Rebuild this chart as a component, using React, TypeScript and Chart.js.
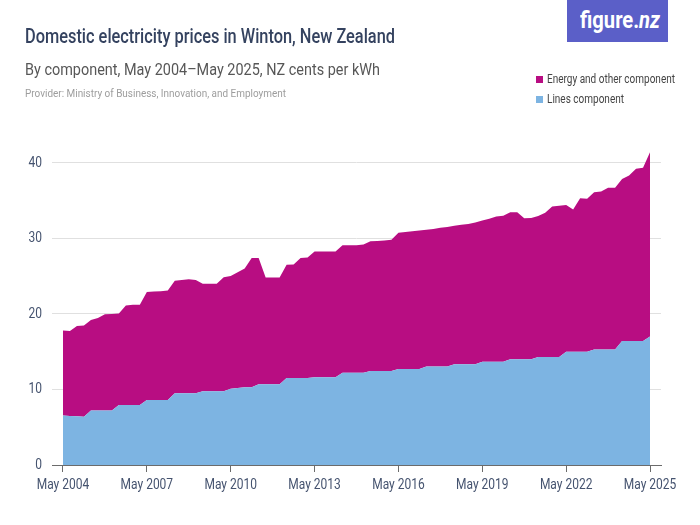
import { useEffect, useLayoutEffect, useRef } from "react";
import { Chart, registerables } from "chart.js";

Chart.register(...registerables);

// Quarterly periods from May 2004 to May 2025
const QUARTER_MONTHS = ["May", "Aug", "Nov", "Feb"];
const FIRST_YEAR = 2004;
const PERIOD_COUNT = 85;
const periods: string[] = [];
for (let i = 0; i < PERIOD_COUNT; i++) {
  periods.push(`${QUARTER_MONTHS[i % 4]} ${FIRST_YEAR + Math.floor((i + 1) / 4)}`);
}

// Axis labels
const xTickLabels = ["May 2004", "May 2007", "May 2010", "May 2013", "May 2016", "May 2019", "May 2022", "May 2025"];
const yTickValues = [0, 10, 20, 30, 40];

// Lines component, NZ cents per kWh
const linesComponent = [
  6.55, 6.5, 6.45, 6.4,
  7.2, 7.2, 7.2, 7.2,
  7.95, 7.95, 7.95, 7.95,
  8.6, 8.6, 8.6, 8.6,
  9.5, 9.5, 9.5, 9.5,
  9.75, 9.75, 9.75, 9.75,
  10.1, 10.2, 10.3, 10.3,
  10.7, 10.7, 10.7, 10.7,
  11.5, 11.5, 11.5, 11.5,
  11.6, 11.6, 11.6, 11.6,
  12.2, 12.2, 12.2, 12.2,
  12.45, 12.45, 12.45, 12.45,
  12.7, 12.7, 12.7, 12.7,
  13.05, 13.05, 13.05, 13.05,
  13.35, 13.35, 13.35, 13.35,
  13.65, 13.65, 13.65, 13.65,
  14.0, 14.0, 14.0, 14.0,
  14.3, 14.3, 14.3, 14.3,
  15.0, 15.0, 15.0, 15.0,
  15.3, 15.3, 15.3, 15.3,
  16.4, 16.4, 16.4, 16.4,
  17.0,
];

// Energy and other component, NZ cents per kWh
const energyComponent = [
  11.25, 11.25, 11.95, 12.05,
  12.0, 12.25, 12.75, 12.8,
  12.1, 13.15, 13.25, 13.25,
  14.3, 14.35, 14.4, 14.5,
  14.9, 15.0, 15.1, 15.0,
  14.25, 14.25, 14.25, 15.1,
  14.9, 15.3, 15.7, 17.1,
  16.7, 14.1, 14.1, 14.1,
  15.0, 15.05, 15.9, 15.95,
  16.65, 16.65, 16.65, 16.65,
  16.9, 16.9, 16.9, 17.0,
  17.15, 17.2, 17.25, 17.35,
  18.05, 18.15, 18.25, 18.35,
  18.1, 18.2, 18.35, 18.45,
  18.3, 18.45, 18.55, 18.75,
  18.7, 18.95, 19.25, 19.35,
  19.45, 19.45, 18.65, 18.7,
  18.65, 19.1, 19.9, 20.0,
  19.4, 18.8, 20.3, 20.25,
  20.8, 20.9, 21.4, 21.4,
  21.45, 21.9, 22.8, 22.95,
  24.4,
];

const LINES_COLOUR = "#7db4e2";
const ENERGY_COLOUR = "#b80d82";
const NAVY = "#34425f";
const AXIS_TEXT = "#45536f";
const FONT = "Roboto, 'Liberation Sans', sans-serif";
const TICK_SQUEEZE = 0.8;

// Tick labels in a narrow face: Chart.js places them, this squeezes them horizontally.
const narrowTickLabels = {
  id: "narrowTickLabels",
  afterDraw(chart: any) {
    const ctx = chart.ctx as CanvasRenderingContext2D;
    const xs = chart.scales.x;
    const ys = chart.scales.y;
    ctx.save();
    ctx.fillStyle = AXIS_TEXT;
    ctx.font = `15px ${FONT}`;
    ctx.textBaseline = "middle";
    for (const t of xs.ticks) {
      ctx.save();
      ctx.translate(xs.getPixelForValue(t.value), xs.top + 20);
      ctx.scale(TICK_SQUEEZE, 1);
      ctx.textAlign = "center";
      ctx.fillText(periods[t.value], 0, 0);
      ctx.restore();
    }
    for (const t of ys.ticks) {
      ctx.save();
      ctx.translate(ys.right - 10, ys.getPixelForValue(t.value));
      ctx.scale(TICK_SQUEEZE, 1);
      ctx.textAlign = "right";
      ctx.fillText(String(t.value), 0, 0);
      ctx.restore();
    }
    ctx.restore();
  },
};

function ElectricityChart() {
  const canvasRef = useRef<HTMLCanvasElement | null>(null);

  useEffect(() => {
    const canvas = canvasRef.current;
    if (!canvas) return;
    const xTickIndex = xTickLabels.map((label) => periods.indexOf(label));

    const chart = new Chart(canvas, {
      type: "line",
      data: {
        datasets: [
          {
            label: "Lines component",
            data: linesComponent.map((v, i) => ({ x: i, y: v })),
            backgroundColor: LINES_COLOUR,
            borderColor: LINES_COLOUR,
            borderWidth: 0,
            pointRadius: 0,
            fill: "origin",
            tension: 0,
          },
          {
            label: "Energy and other component",
            data: energyComponent.map((v, i) => ({ x: i, y: v })),
            backgroundColor: ENERGY_COLOUR,
            borderColor: ENERGY_COLOUR,
            borderWidth: 0,
            pointRadius: 0,
            fill: "-1",
            tension: 0,
          },
        ],
      },
      options: {
        responsive: false,
        animation: false,
        devicePixelRatio: 1,
        layout: { padding: { top: 125, right: 39, left: 0, bottom: 0 } },
        plugins: {
          legend: { display: false },
          tooltip: { enabled: false },
        },
        scales: {
          x: {
            type: "linear",
            min: -1.57,
            max: PERIOD_COUNT - 1 + 1.57,
            afterBuildTicks: (scale: any) => {
              scale.ticks = xTickIndex.map((v) => ({ value: v }));
            },
            afterFit: (scale: any) => {
              scale.height = 60;
            },
            ticks: { display: false },
            grid: {
              drawOnChartArea: false,
              drawTicks: true,
              tickLength: 7,
              color: "#6b6b6b",
              lineWidth: 1,
            },
            border: { display: true, color: "#6b6b6b", width: 1 },
          },
          y: {
            stacked: true,
            min: 0,
            max: 45,
            afterBuildTicks: (scale: any) => {
              scale.ticks = yTickValues.map((v) => ({ value: v }));
            },
            afterFit: (scale: any) => {
              scale.width = 52;
            },
            ticks: { display: false },
            grid: {
              drawTicks: false,
              color: "#e0e0e0",
              lineWidth: 1,
            },
            border: { display: false },
          },
        },
      },
      plugins: [narrowTickLabels],
    });

    return () => chart.destroy();
  }, []);

  return (
    <canvas
      ref={canvasRef}
      width={700}
      height={525}
      style={{ position: "absolute", left: 0, top: 0, width: 700, height: 525 }}
    />
  );
}

// Text squeezed horizontally to a set width, standing in for a condensed typeface.
function NarrowText(props: { left: number; top: number; width: number; style: any; children: any }) {
  const ref = useRef<HTMLSpanElement | null>(null);
  useLayoutEffect(() => {
    const el = ref.current;
    if (!el) return;
    const fit = () => {
      el.style.transform = "none";
      const w = el.getBoundingClientRect().width;
      if (w > 0) el.style.transform = `scaleX(${props.width / w})`;
    };
    fit();
    if ((document as any).fonts?.ready) (document as any).fonts.ready.then(fit);
  }, [props.width]);
  return (
    <span
      ref={ref}
      style={{
        position: "absolute",
        left: props.left,
        top: props.top,
        display: "inline-block",
        whiteSpace: "nowrap",
        transformOrigin: "0 0",
        fontFamily: FONT,
        ...props.style,
      }}
    >
      {props.children}
    </span>
  );
}

export default function App() {
  return (
    <div
      style={{
        position: "fixed",
        left: 0,
        top: 0,
        width: 700,
        height: 525,
        background: "#fff",
        overflow: "hidden",
        fontFamily: FONT,
      }}
    >
      <ElectricityChart />
      <NarrowText left={25} top={23} width={370} style={{ fontSize: 21, fontWeight: 500, color: NAVY, lineHeight: "26px" }}>
        Domestic electricity prices in Winton, New Zealand
      </NarrowText>
      <NarrowText left={25} top={58} width={355} style={{ fontSize: 17, color: "#575757", lineHeight: "22px" }}>
        By component, May 2004–May 2025, NZ cents per kWh
      </NarrowText>
      <NarrowText left={25} top={86} width={261} style={{ fontSize: 11.5, color: "#9d9d9d", lineHeight: "14px" }}>
        Provider: Ministry of Business, Innovation, and Employment
      </NarrowText>
      <div
        style={{
          position: "absolute",
          left: 567,
          top: 0,
          width: 101,
          height: 42,
          background: "#5b5fc8",
        }}
      />
      <NarrowText left={580} top={7} width={80} style={{ fontSize: 24, fontWeight: 700, color: "#fff", lineHeight: "26px" }}>
        figure.<i>nz</i>
      </NarrowText>
      <span style={{ position: "absolute", left: 536, top: 76, width: 7, height: 7, background: ENERGY_COLOUR }} />
      <NarrowText left={547} top={71} width={128} style={{ fontSize: 12.5, color: "#444", lineHeight: "16px" }}>
        Energy and other component
      </NarrowText>
      <span style={{ position: "absolute", left: 536, top: 96, width: 7, height: 7, background: LINES_COLOUR }} />
      <NarrowText left={547} top={91} width={77} style={{ fontSize: 12.5, color: "#444", lineHeight: "16px" }}>
        Lines component
      </NarrowText>
    </div>
  );
}
